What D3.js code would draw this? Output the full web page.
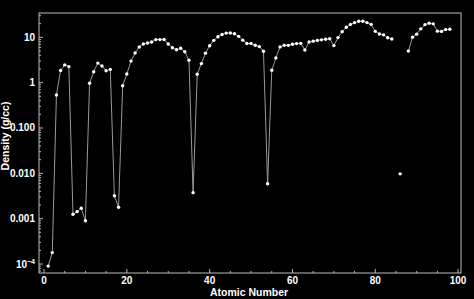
<!DOCTYPE html>
<html>
<head>
<meta charset="utf-8">
<script src="https://cdn.jsdelivr.net/npm/d3@7"></script>
<style>
  html, body { margin: 0; padding: 0; background: #000; }
  svg { display: block; }
  .lbl { font-family: "Liberation Sans", Arial, sans-serif; font-weight: bold; fill: #fff; }
</style>
</head>
<body>
<div id="chart-container"></div>
<script>
// atomic numbers 1..98, density in g/cc (null = no value)
const atomicNumbers = d3.range(1, 99);
const densities = [
  0.0000899, 0.0001785, 0.535, 1.848, 2.46, 2.26, 0.001251, 0.001429, 0.001696, 0.0009,
  0.968, 1.738, 2.7, 2.33, 1.823, 1.96, 0.003214, 0.001784, 0.856, 1.55,
  2.985, 4.507, 6.11, 7.14, 7.47, 7.874, 8.9, 8.908, 8.96, 7.14,
  5.904, 5.323, 5.727, 4.819, 3.12, 0.00375, 1.532, 2.63, 4.472, 6.511,
  8.57, 10.28, 11.5, 12.37, 12.45, 12.023, 10.49, 8.65, 7.31, 7.31,
  6.697, 6.24, 4.94, 0.0059, 1.879, 3.51, 6.146, 6.689, 6.64, 7.01,
  7.264, 7.353, 5.244, 7.901, 8.219, 8.551, 8.795, 9.066, 9.321, 6.57,
  9.841, 13.31, 16.65, 19.25, 21.02, 22.61, 22.65, 21.09, 19.3, 13.534,
  11.85, 11.34, 9.78, 9.196, null, 0.00973, null, 5.0, 10.07, 11.724,
  15.37, 19.05, 20.45, 19.816, 13.67, 13.51, 14.78, 15.1
];
const xTicks = [0, 20, 40, 60, 80, 100];
const yTicks = [10, 1, 0.1, 0.01, 0.001, 0.0001];
const yTickLabels = ["10", "1", "0.100", "0.010", "0.001", "10^-4"];

const W = 474, H = 299;
const mLeft = 39, mRight = 461, mTop = 13, mBottom = 273;

const svg = d3.select("#chart-container").append("svg")
  .attr("width", W).attr("height", H);
svg.append("rect").attr("width", W).attr("height", H).attr("fill", "#000");

const x = d3.scaleLinear().domain([-1.21, 100.7]).range([mLeft, mRight]);
const y = d3.scaleLog().domain([Math.pow(10, -4.198), Math.pow(10, 1.536)]).range([mBottom, mTop]);

const data = atomicNumbers.map((n, i) => ({ n: n, d: densities[i] }));

//frame
svg.append("rect")
  .attr("x", mLeft).attr("y", mTop)
  .attr("width", mRight - mLeft).attr("height", mBottom - mTop)
  .attr("fill", "none").attr("stroke", "#bbb").attr("stroke-width", 1);

//x ticks, inward
const xMinor = d3.range(0, 101, 5);
svg.selectAll(".xt").data(xMinor).enter().append("line")
  .attr("x1", d => x(d)).attr("x2", d => x(d))
  .attr("y1", mBottom).attr("y2", d => mBottom - (d % 20 === 0 ? 4 : 2))
  .attr("stroke", "#bbb");
svg.selectAll(".xl").data(xTicks).enter().append("text")
  .attr("class", "lbl")
  .attr("x", d => x(d)).attr("y", 284)
  .attr("text-anchor", "middle").attr("font-size", 10)
  .text(d => d);

//y ticks
const yMinor = [];
for (let e = -5; e <= 1; e++) {
  for (let k = 1; k <= 9; k++) {
    const v = k * Math.pow(10, e);
    if (v >= y.domain()[0] && v <= y.domain()[1]) yMinor.push({ v: v, major: k === 1 });
  }
}
svg.selectAll(".yt").data(yMinor).enter().append("line")
  .attr("x1", mLeft).attr("x2", d => mLeft + (d.major ? 4 : 2))
  .attr("y1", d => y(d.v)).attr("y2", d => y(d.v))
  .attr("stroke", "#bbb");
yTicks.forEach((v, i) => {
  const t = svg.append("text").attr("class", "lbl")
    .attr("x", 35).attr("y", y(v) + 3.5)
    .attr("text-anchor", "end").attr("font-size", 10);
  const lab = yTickLabels[i];
  if (lab.indexOf("^") >= 0) {
    const parts = lab.split("^");
    t.append("tspan").text(parts[0]);
    t.append("tspan").attr("font-size", 7).attr("dy", -4).text(parts[1].replace("-", "\u2212"));
  } else {
    t.text(lab);
  }
});

//line (broken where no value)
const line = d3.line()
  .defined(d => d.d !== null)
  .x(d => x(d.n)).y(d => y(d.d));
svg.append("path").datum(data)
  .attr("d", line)
  .attr("fill", "none").attr("stroke", "#999").attr("stroke-width", 1);

//points
svg.selectAll(".pt").data(data.filter(d => d.d !== null)).enter().append("circle")
  .attr("cx", d => x(d.n)).attr("cy", d => y(d.d))
  .attr("r", 1.7).attr("fill", "#fff");

//axis titles
svg.append("text").attr("class", "lbl")
  .attr("x", 249).attr("y", 296)
  .attr("text-anchor", "middle").attr("font-size", 10.5)
  .text("Atomic Number");
svg.append("text").attr("class", "lbl")
  .attr("transform", "translate(9,136) rotate(-90)")
  .attr("text-anchor", "middle").attr("font-size", 10.5)
  .text("Density (g/cc)");
</script>
</body>
</html>
